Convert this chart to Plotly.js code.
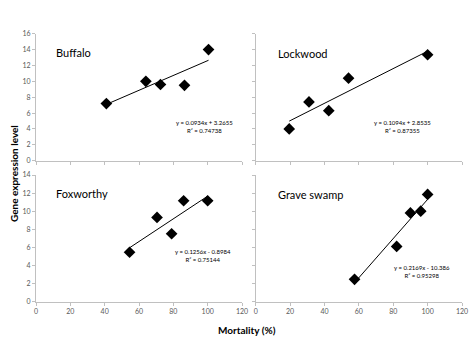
<!DOCTYPE html>
<html><head><meta charset="utf-8">
<script src="https://cdn.plot.ly/plotly-3.0.1.min.js"></script>
<style>html,body{margin:0;padding:0;background:#fff}#c{width:474px;height:355px}</style>
</head><body><div id="c"></div>
<script>
const sites = ["Buffalo", "Lockwood", "Foxworthy", "Grave swamp"];
const mortBuffalo = [41, 64, 72.5, 86.5, 100.5];
const geneBuffalo = [7.2, 10.0, 9.6, 9.5, 14.0];
const mortLockwood = [19.5, 31, 42.5, 54, 100];
const geneLockwood = [4.0, 7.4, 6.3, 10.4, 13.35];
const mortFoxworthy = [54.5, 70.5, 79, 86, 100];
const geneFoxworthy = [5.45, 9.3, 7.5, 11.15, 11.15];
const mortGrave = [57.5, 82, 90, 96, 100];
const geneGrave = [2.45, 6.1, 9.8, 10.0, 11.85];
const slopes = [0.0934, 0.1094, 0.1256, 0.2169];
const intercepts = [3.2655, 2.8535, -0.8984, -10.386];
const eqTexts = ["y = 0.0934x + 3.2655", "y = 0.1094x + 2.8535", "y = 0.1256x - 0.8984", "y = 0.2169x - 10.386"];
const r2Texts = ["R² = 0.74738", "R² = 0.87355", "R² = 0.75144", "R² = 0.95298"];
const xTicks = [0, 20, 40, 60, 80, 100, 120];
const yTicksTop = [0, 2, 4, 6, 8, 10, 12, 14, 16];
const yTicksBottom = [0, 2, 4, 6, 8, 10, 12, 14];

const W = 474, H = 355;
const px = v => v / W, py = v => (H - v) / H;
const xs = [mortBuffalo, mortLockwood, mortFoxworthy, mortGrave];
const ys = [geneBuffalo, geneLockwood, geneFoxworthy, geneGrave];
const axSuffix = ["", "2", "3", "4"];
const data = [];
for (let i = 0; i < 4; i++) {
  const s = axSuffix[i];
  data.push({x: xs[i], y: ys[i], type: "scatter", mode: "markers", xaxis: "x" + s, yaxis: "y" + s,
    marker: {symbol: "diamond", size: 9, color: "#000"}, hoverinfo: "skip", showlegend: false});
  const x0 = Math.min(...xs[i]), x1 = Math.max(...xs[i]);
  data.push({x: [x0, x1], y: [slopes[i] * x0 + intercepts[i], slopes[i] * x1 + intercepts[i]],
    type: "scatter", mode: "lines", xaxis: "x" + s, yaxis: "y" + s,
    line: {color: "#000", width: 1}, hoverinfo: "skip", showlegend: false});
}
const tickFont = {family: "Lato, 'Open Sans', sans-serif", size: 7, color: "#595959"};
function xa(dom, anchor, labels) {
  return {domain: dom, anchor: anchor, range: [0, 120], tickvals: xTicks, showticklabels: labels,
    showgrid: false, zeroline: false, showline: true, linecolor: "#c0c0c0", linewidth: 1.5,
    ticks: "outside", ticklen: 3, tickcolor: "#c0c0c0", tickfont: tickFont, fixedrange: true};
}
function ya(dom, anchor, labels, top, tv) {
  return {domain: dom, anchor: anchor, range: [0, top], tickvals: tv, showticklabels: labels,
    showgrid: false, zeroline: false, showline: true, linecolor: "#c0c0c0", linewidth: 1,
    ticks: "outside", ticklen: 3, tickcolor: "#c0c0c0", tickfont: tickFont, fixedrange: true};
}
const dxL = [px(36), px(242)], dxR = [px(255.7), px(462)];
const dyT = [py(160.7), py(33.7)], dyB = [py(301.5), py(175)];
const layout = {
  width: W, height: H, margin: {l: 0, r: 0, t: 0, b: 0},
  paper_bgcolor: "#fff", plot_bgcolor: "rgba(0,0,0,0)", showlegend: false,
  xaxis: xa(dxL, "y", false), yaxis: ya(dyT, "x", true, 16, yTicksTop),
  xaxis2: xa(dxR, "y2", false), yaxis2: ya(dyT, "x2", false, 16, yTicksTop),
  xaxis3: xa(dxL, "y3", true), yaxis3: ya(dyB, "x3", true, 14, yTicksBottom),
  xaxis4: xa(dxR, "y4", true), yaxis4: ya(dyB, "x4", false, 14, yTicksBottom),
  annotations: []
};
const titlePos = [[54, 52], [276, 53], [54, 194], [276, 195]];
const eqPos = [[204, 123], [402, 123], [203, 252], [422, 267]];
const baseFont = "Lato, 'Open Sans', sans-serif";
for (let i = 0; i < 4; i++) {
  layout.annotations.push({text: sites[i], xref: "paper", yref: "paper", x: px(titlePos[i][0]), y: py(titlePos[i][1]),
    xanchor: "left", yanchor: "middle", showarrow: false, font: {family: baseFont, size: 11, color: "#000"}});
  layout.annotations.push({text: eqTexts[i] + "<br>" + r2Texts[i], xref: "paper", yref: "paper",
    x: px(eqPos[i][0]), y: py(eqPos[i][1] + 4), xanchor: "center", yanchor: "middle", align: "center",
    showarrow: false, font: {family: baseFont, size: 6, color: "#000"}});
}
layout.annotations.push({text: "<b>Gene expression level</b>", xref: "paper", yref: "paper", x: px(14), y: py(174),
  xanchor: "center", yanchor: "middle", textangle: -90, showarrow: false, font: {family: baseFont, size: 10, color: "#000"}});
layout.annotations.push({text: "<b>Mortality (%)</b>", xref: "paper", yref: "paper", x: px(247), y: py(330),
  xanchor: "center", yanchor: "middle", showarrow: false, font: {family: baseFont, size: 10, color: "#000"}});
Plotly.newPlot("c", data, layout, {staticPlot: true, displayModeBar: false});
</script></body></html>
